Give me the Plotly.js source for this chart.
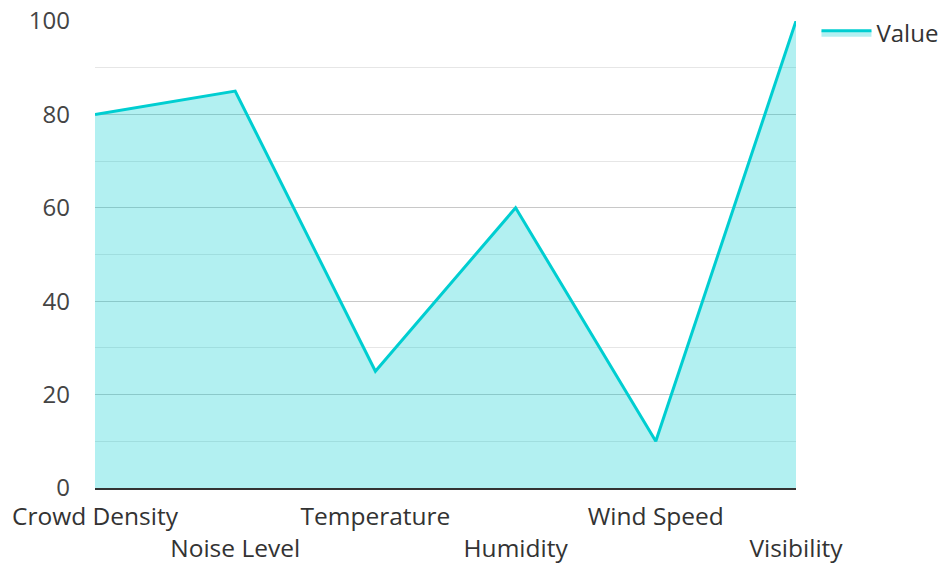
<!DOCTYPE html>
<html><head><meta charset="utf-8">
<script src="https://cdn.plot.ly/plotly-3.0.1.min.js"></script>
<style>html,body{margin:0;padding:0;background:#fff}</style>
</head><body><div id="chart" style="width:945px;height:563px"></div>
<script>
const categories = ["Crowd Density", "Noise Level", "Temperature", "Humidity", "Wind Speed", "Visibility"];
const values = [80, 85, 25, 60, 10, 100];
const seriesName = "Value";
const yTicks = [0, 20, 40, 60, 80, 100];

const tickText = categories.map((c, i) => i % 2 === 1 ? "<br>" + c : c);

const trace = {
  x: categories, y: values, name: seriesName, type: "scatter", mode: "lines",
  fill: "tozeroy", fillcolor: "rgba(0,206,209,0.3)",
  line: {color: "#00CED1", width: 3}
};
const layout = {
  width: 945, height: 563,
  margin: {l: 95, r: 149, t: 21, b: 75},
  paper_bgcolor: "#fff", plot_bgcolor: "#fff",
  font: {family: "Open Sans, sans-serif", size: 24, color: "#333"},
  showlegend: true,
  legend: {xref: "container", yref: "container", x: 0.864, y: 0.981, xanchor: "left", yanchor: "top",
           itemwidth: 50, font: {size: 24, color: "#333"}, bgcolor: "rgba(0,0,0,0)"},
  xaxis: {
    type: "category", tickvals: categories, ticktext: tickText, tickangle: 0,
    showgrid: false, showline: true, linecolor: "#333", linewidth: 2,
    ticks: "", range: [0, categories.length - 1], zeroline: false,
    ticklabelstandoff: 6, automargin: false,
    tickfont: {size: 24.5, color: "#333"}
  },
  yaxis: {
    range: [0, 100], tickvals: yTicks, showgrid: true, gridcolor: "#c8c8c8", gridwidth: 1,
    minor: {dtick: 10, showgrid: true, gridcolor: "#e6e6e6", gridwidth: 1},
    zeroline: false, showline: false, ticks: "", ticklen: 0,
    ticklabelstandoff: 24, automargin: false,
    tickfont: {size: 24, color: "#444"}
  }
};
Plotly.newPlot("chart", [trace], layout, {displayModeBar: false, staticPlot: true});
</script></body></html>
